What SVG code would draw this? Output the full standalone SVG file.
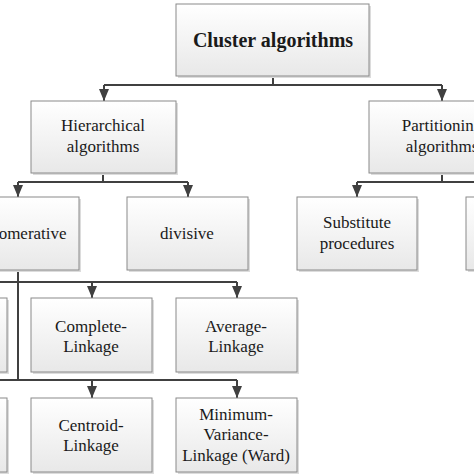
<svg xmlns="http://www.w3.org/2000/svg" width="474" height="474" viewBox="0 0 474 474">
<defs>
<linearGradient id="g" x1="0" y1="0" x2="0" y2="1">
<stop offset="0" stop-color="#ffffff"/>
<stop offset="1" stop-color="#e8e8e8"/>
</linearGradient>
<marker id="arr" viewBox="0 0 12 10" refX="12" refY="5" markerWidth="12" markerHeight="10" markerUnits="userSpaceOnUse" orient="auto">
<path d="M0,0 L12,5 L0,10 z" fill="#404040"/>
</marker>
</defs>
<style>
.box{fill:url(#g);stroke:#8a8a8a;stroke-width:1}
.sh{fill:#dcdcdc}
text{font-family:"Liberation Serif","Times New Roman","DejaVu Serif","Noto Serif",serif;font-size:17px;fill:#1a1a1a;text-anchor:middle}
.title{font-weight:bold;font-size:20px}
.c{fill:none;stroke:#404040;stroke-width:2}
</style>
<g id="connectors">
<path class="c" d="M273,76 V85 M104,85 H442"/>
<path class="c" d="M104,85 V101" marker-end="url(#arr)"/>
<path class="c" d="M442,85 V101" marker-end="url(#arr)"/>
<path class="c" d="M103,173 V182 M18,182 H188"/>
<path class="c" d="M18,182 V197" marker-end="url(#arr)"/>
<path class="c" d="M188,182 V197" marker-end="url(#arr)"/>
<path class="c" d="M442,173 V182 M357,182 H527"/>
<path class="c" d="M357,182 V197" marker-end="url(#arr)"/>
<path class="c" d="M527,182 V197" marker-end="url(#arr)"/>
<path class="c" d="M18,270 V380 M-53,282 H237 M-53,380 H237"/>
<path class="c" d="M-53,282 V298" marker-end="url(#arr)"/>
<path class="c" d="M92,282 V298" marker-end="url(#arr)"/>
<path class="c" d="M237,282 V298" marker-end="url(#arr)"/>
<path class="c" d="M-53,380 V398" marker-end="url(#arr)"/>
<path class="c" d="M92,380 V398" marker-end="url(#arr)"/>
<path class="c" d="M237,380 V398" marker-end="url(#arr)"/>
</g>
<g id="root">
<rect class="sh" x="178" y="6" width="193" height="72"/>
<rect class="box" x="176" y="4" width="193" height="72"/>
<text class="title" x="273" y="47">Cluster algorithms</text>
</g>
<g id="hierarchical">
<rect class="sh" x="33" y="103" width="145" height="72"/>
<rect class="box" x="31" y="101" width="145" height="72"/>
<text x="103" y="131">Hierarchical</text>
<text x="103" y="152">algorithms</text>
</g>
<g id="partitioning">
<rect class="sh" x="371" y="103" width="146" height="72"/>
<rect class="box" x="369" y="101" width="146" height="72"/>
<text x="442" y="131">Partitioning</text>
<text x="442" y="152">algorithms</text>
</g>
<g id="agglomerative">
<rect class="sh" x="-41" y="199" width="122" height="73"/>
<rect class="box" x="-43" y="197" width="122" height="73"/>
<text x="18" y="239">agglomerative</text>
</g>
<g id="divisive">
<rect class="sh" x="129" y="199" width="121" height="73"/>
<rect class="box" x="127" y="197" width="121" height="73"/>
<text x="187" y="239">divisive</text>
</g>
<g id="substitute">
<rect class="sh" x="299" y="199" width="120" height="73"/>
<rect class="box" x="297" y="197" width="120" height="73"/>
<text x="357" y="228">Substitute</text>
<text x="357" y="249">procedures</text>
</g>
<g id="partition-right">
<rect class="sh" x="468" y="199" width="121" height="73"/>
<rect class="box" x="466" y="197" width="121" height="73"/>
</g>
<g id="left-row1">
<rect class="sh" x="-112" y="300" width="121" height="74"/>
<rect class="box" x="-114" y="298" width="121" height="74"/>
</g>
<g id="complete">
<rect class="sh" x="33" y="300" width="121" height="74"/>
<rect class="box" x="31" y="298" width="121" height="74"/>
<text x="91" y="332">Complete-</text>
<text x="91" y="352">Linkage</text>
</g>
<g id="average">
<rect class="sh" x="178" y="300" width="121" height="74"/>
<rect class="box" x="176" y="298" width="121" height="74"/>
<text x="236" y="332">Average-</text>
<text x="236" y="352">Linkage</text>
</g>
<g id="left-row2">
<rect class="sh" x="-112" y="400" width="121" height="74"/>
<rect class="box" x="-114" y="398" width="121" height="74"/>
</g>
<g id="centroid">
<rect class="sh" x="33" y="400" width="121" height="74"/>
<rect class="box" x="31" y="398" width="121" height="74"/>
<text x="91" y="431">Centroid-</text>
<text x="91" y="451">Linkage</text>
</g>
<g id="ward">
<rect class="sh" x="178" y="400" width="121" height="74"/>
<rect class="box" x="176" y="398" width="121" height="74"/>
<text x="236" y="420">Minimum-</text>
<text x="236" y="440">Variance-</text>
<text x="236" y="461">Linkage (Ward)</text>
</g>
</svg>
